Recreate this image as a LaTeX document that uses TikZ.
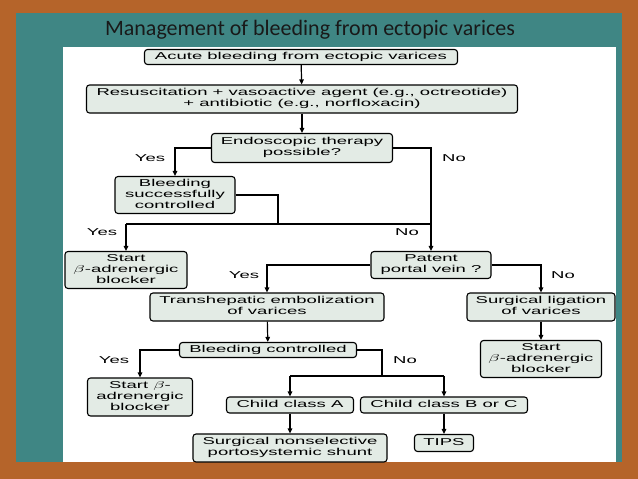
\documentclass[tikz,border=0pt]{standalone}
\usepackage{fontspec}
\usepackage{graphicx}
\setmainfont{Liberation Sans}
\newfontfamily\titlefont{Carlito}
\usetikzlibrary{arrows.meta}
\newcommand{\sx}[1]{\scalebox{1.85}[1]{\begin{tabular}{@{}c@{}}#1\end{tabular}}}
\definecolor{wood}{HTML}{B5642A}
\definecolor{teal}{HTML}{3F8684}
\definecolor{boxf}{HTML}{E3EBE5}
\begin{document}
\begin{tikzpicture}[x=1pt,y=-1pt,
  box/.style={draw=black,line width=1.1pt,rounded corners=3pt,fill=boxf,inner sep=0pt,
    font=\fontsize{10}{11}\selectfont},
  lab/.style={font=\fontsize{10}{11}\selectfont,inner sep=0pt},
  arr/.style={line width=1.2pt,-{Triangle[length=5pt,width=4.5pt]}},
  ln/.style={line width=1.2pt}]
\useasboundingbox (0,0) rectangle (638,479);
\fill[wood] (0,0) rectangle (638,479);
\fill[teal] (16,13) rectangle (622,462);
\fill[white] (63,47) rectangle (616,462);
\node[font=\titlefont\fontsize{22}{24}\selectfont,text=black!90] (title) at (310,30) {Management of bleeding from ectopic varices};

\node[box,minimum width=313pt,minimum height=15pt] (acute) at (301,57) {\sx{Acute bleeding from ectopic varices}};
\node[box,minimum width=431pt,minimum height=28pt] (resus) at (302,99) {\sx{Resuscitation + vasoactive agent (e.g., octreotide)\\+ antibiotic (e.g., norfloxacin)}};
\node[box,minimum width=181pt,minimum height=29pt] (endo) at (302,148) {\sx{Endoscopic therapy\\possible?}};
\node[box,minimum width=120pt,minimum height=37pt] (bsc) at (175,195) {\sx{Bleeding\\successfully\\controlled}};
\node[box,minimum width=122pt,minimum height=37pt] (sb1) at (126,270) {\sx{Start\\$\beta$-adrenergic\\blocker}};
\node[box,minimum width=120pt,minimum height=27pt] (patent) at (431,265) {\sx{Patent\\portal vein ?}};
\node[box,minimum width=234pt,minimum height=28pt] (trans) at (267,307) {\sx{Transhepatic embolization\\of varices}};
\node[box,minimum width=148pt,minimum height=28pt] (lig) at (541,307) {\sx{Surgical ligation\\of varices}};
\node[box,minimum width=177pt,minimum height=15pt] (bc) at (268,350) {\sx{Bleeding controlled}};
\node[box,minimum width=121pt,minimum height=37pt] (sb2) at (541,359) {\sx{Start\\$\beta$-adrenergic\\blocker}};
\node[box,minimum width=105pt,minimum height=38pt] (sb3) at (140,397) {\sx{Start $\beta$-\\adrenergic\\blocker}};
\node[box,minimum width=127pt,minimum height=16pt] (ca) at (290,405) {\sx{Child class A}};
\node[box,minimum width=167pt,minimum height=16pt] (cbc) at (444,405) {\sx{Child class B or C}};
\node[box,minimum width=194pt,minimum height=28pt] (surg) at (290,448) {\sx{Surgical nonselective\\portosystemic shunt}};
\node[box,minimum width=59pt,minimum height=17pt] (tips) at (444,443) {\sx{TIPS}};

\coordinate (jl) at (126,224);
\coordinate (jr) at (431,224);
\coordinate (jm) at (278,224);
\coordinate (jb) at (382,376);

\draw[arr] (acute) -- (resus);
\draw[arr] (resus) -- (endo);
\draw[arr] (endo.west) -| (bsc.north);
\draw[arr] (endo.east) -| (patent.north);
\draw[ln] (bsc.east) -| (jm);
\draw[ln] (jl) -- (jr);
\draw[arr] (jl) -- (sb1.north);
\draw[arr] (patent.west) -| (trans.north);
\draw[arr] (patent.east) -| (lig.north);
\draw[arr] (trans) -- (bc);
\draw[arr] (lig) -- (sb2);
\draw[arr] (bc.west) -| (sb3.north);
\draw[ln] (bc.east) -| (jb);
\draw[ln] (ca.north |- jb) -- (cbc.north |- jb);
\draw[arr] (ca.north |- jb) -- (ca.north);
\draw[arr] (cbc.north |- jb) -- (cbc.north);
\draw[arr] (ca) -- (surg);
\draw[arr] (cbc) -- (tips);

\node[lab] (l1) at (150,158) {\scalebox{1.85}[1]{Yes}};
\node[lab] (l2) at (454,158) {\scalebox{1.85}[1]{No}};
\node[lab] (l3) at (102,232) {\scalebox{1.85}[1]{Yes}};
\node[lab] (l4) at (407,232) {\scalebox{1.85}[1]{No}};
\node[lab] (l5) at (244,275) {\scalebox{1.85}[1]{Yes}};
\node[lab] (l6) at (563,275) {\scalebox{1.85}[1]{No}};
\node[lab] (l7) at (114,360) {\scalebox{1.85}[1]{Yes}};
\node[lab] (l8) at (405,360) {\scalebox{1.85}[1]{No}};
\end{tikzpicture}
\end{document}
